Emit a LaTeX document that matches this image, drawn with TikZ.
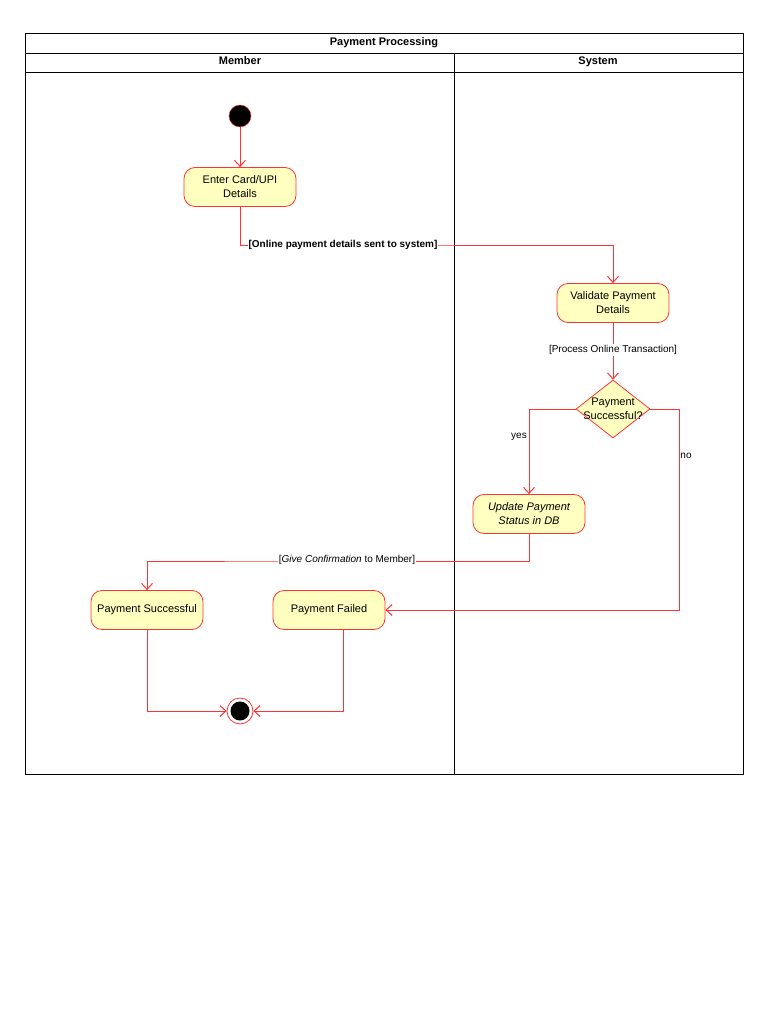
\documentclass[tikz,border=0pt]{standalone}
\usepackage{fontspec}
\setmainfont{Liberation Sans}
\usetikzlibrary{arrows.meta,shapes.geometric,calc}
\definecolor{actfill}{HTML}{FFFFC0}
\definecolor{actline}{HTML}{FF3333}
\tikzset{
  action/.style={draw=actline,fill=actfill,rounded corners=11pt,thick,
    minimum width=112pt,minimum height=39pt,align=center,font=\fontsize{11}{14}\selectfont},
  decision/.style={draw=actline,fill=actfill,diamond,thick,
    minimum width=74pt,minimum height=58pt,inner sep=0pt},
  flow/.style={draw=actline,color=actline,line width=1pt,-{Straight Barb[length=6pt,width=11pt]}},
  guard/.style={font=\fontsize{10}{12}\selectfont,inner sep=1pt},
  header/.style={font=\bfseries\fontsize{11}{13}\selectfont,text height=8pt,text depth=2pt},
  lane/.style={draw,thin}
}
\begin{document}
\begin{tikzpicture}[x=1pt,y=-1pt]
  \useasboundingbox (0,0) rectangle (768,1024);
  % swimlanes
  \draw [lane] (25,33) rectangle (743,774);
  \draw [lane] (25,53) -- (743,53);
  \draw [lane] (25,72) -- (743,72);
  \draw [lane] (454,53) -- (454,774);
  \node [header] (title) at (384,43) {Payment Processing};
  \node [header] (member) at (240,62) {Member};
  \node [header] (system) at (598,62) {System};
  % nodes
  \node [circle,fill=black,draw=actline,minimum size=22pt,inner sep=0pt] (start) at (240,116) {};
  \node [action] (enter) at (240,187) {Enter Card/UPI\\Details};
  \node [action] (validate) at (613,303) {Validate Payment\\Details};
  \node [decision] (check) at (613,409) {};
  \node [align=center,font=\fontsize{11}{14}\selectfont] (checktext) at (check) {Payment\\Successful?};
  \node [action,font=\itshape\fontsize{11}{14}\selectfont] (update) at (529,514) {Update Payment\\Status in DB};
  \node [action] (success) at (147,610) {Payment Successful};
  \node [action] (failed) at (329,610) {Payment Failed};
  \node [circle,draw=actline,thick,minimum size=26pt,inner sep=0pt] (end) at (240,711) {};
  \node [circle,fill=black,minimum size=19pt,inner sep=0pt] (endin) at (end) {};
  % connectors
  \draw [flow] (start) -- (enter);
  \draw [flow] (enter.south) |- (300,245) -- (613,245) -- (validate.north);
  \node [guard,fill=white,font=\bfseries\fontsize{10}{12}\selectfont] (g1) at (343,245) {[Online payment details sent to system]};
  \draw [flow] (validate) -- (check);
  \node [guard,fill=white] (g2) at (613,350) {[Process Online Transaction]};
  \draw [flow] (check.west) -| (update.north);
  \node [guard] (g3) at (519,437) {yes};
  \draw [flow] (check.east) -| (679,500) |- (failed.east);
  \node [guard] (g4) at (686,456) {no};
  \draw [flow] (update.south) |- (300,561) -| (success.north);
  \node [guard,fill=white] (g5) at (347,560) {[\textit{Give Confirmation} to Member]};
  \draw [flow] (success.south) |- (end.west);
  \draw [flow] ([xshift=14pt]failed.south) |- (end.east);
\end{tikzpicture}
\end{document}
